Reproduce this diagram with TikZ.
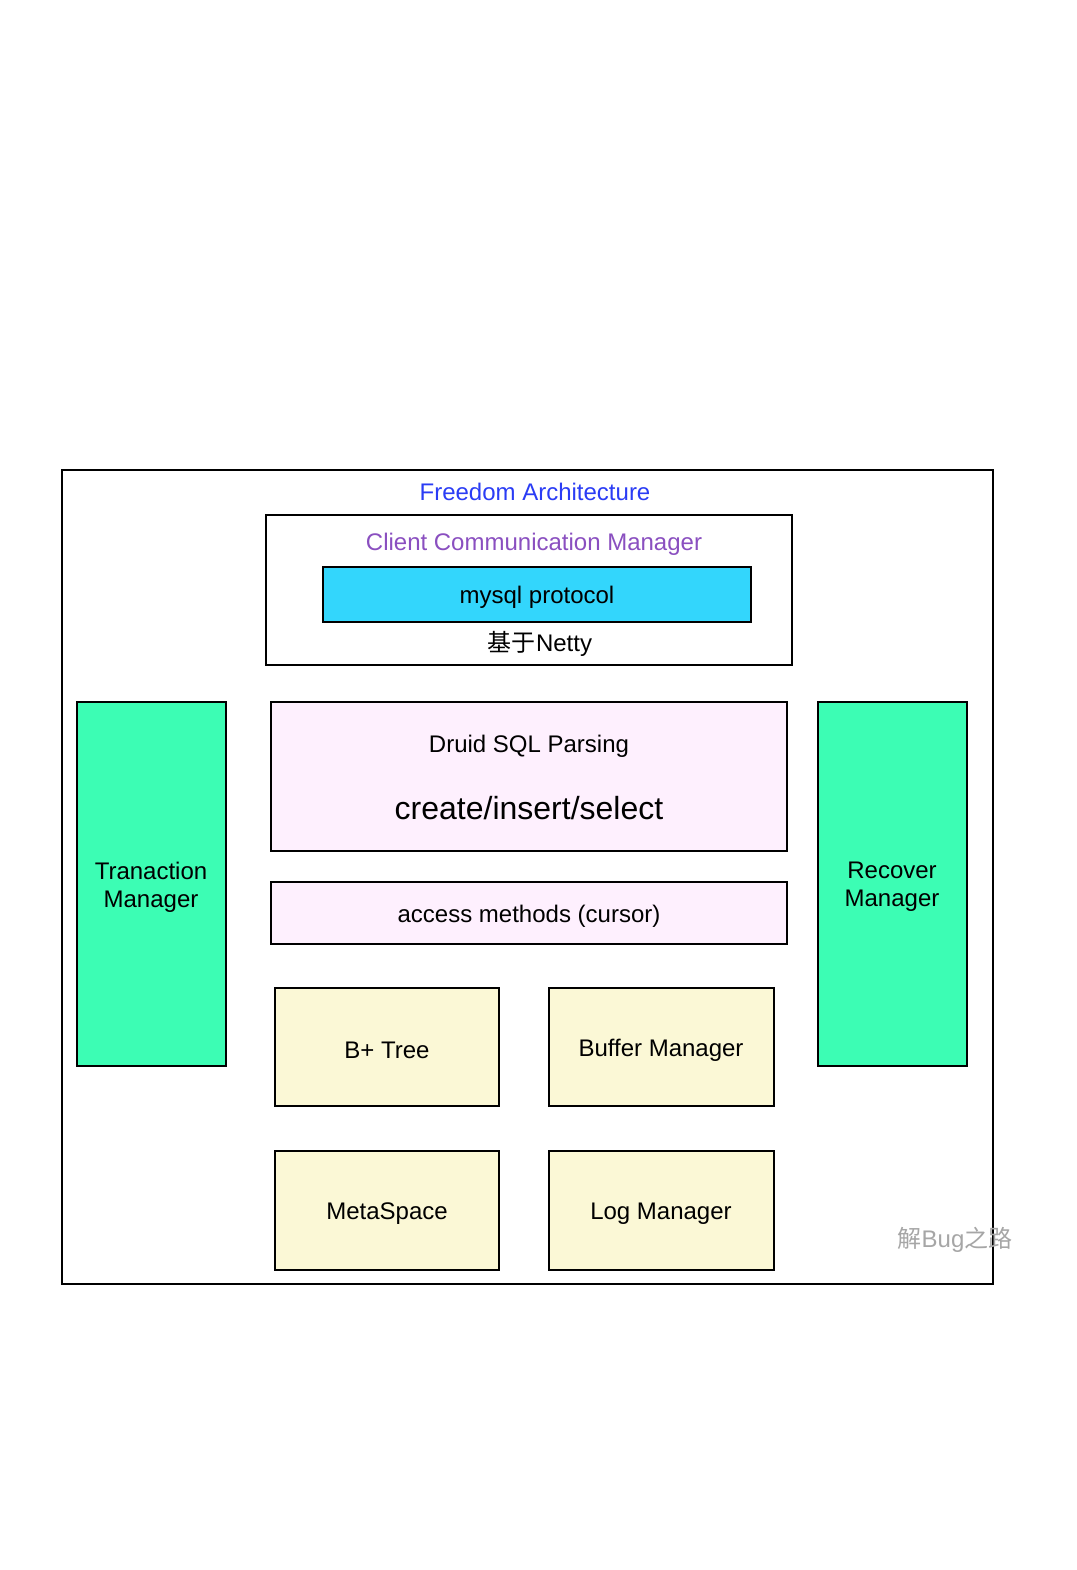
\documentclass[tikz,border=0pt]{standalone}
\usepackage{fontspec}
\setmainfont{Liberation Sans}
\newfontfamily\cjk{Noto Sans CJK SC}
\definecolor{cyanb}{HTML}{33D6FC}
\definecolor{greenb}{HTML}{3CFDB4}
\definecolor{pinkb}{HTML}{FEF0FE}
\definecolor{yelb}{HTML}{FBF8D6}
\definecolor{titleb}{HTML}{2A3CF5}
\definecolor{purp}{HTML}{8A4FC0}
\begin{document}
\begin{tikzpicture}[x=1pt,y=-1pt,
  bx/.style={draw=black,line width=1.2pt},
  lbl/.style={font=\fontsize{24}{28}\selectfont,align=center}]
\useasboundingbox (0,0) rectangle (1076,1570);
\fill[white] (0,0) rectangle (1076,1570);
\draw[bx] (62,470) rectangle (993,1284);
\node[lbl,text=titleb] (t) at (535,492) {Freedom Architecture};
\draw[bx] (266,515) rectangle (792,665);
\node[lbl,text=purp] (c) at (534,544) {Client Communication Manager};
\draw[bx,fill=cyanb] (323,567) rectangle (751,622);
\node[lbl] (m) at (537,597) {mysql protocol};
\node[lbl] (n) at (540,644) {{\cjk 基于}Netty};
\draw[bx,fill=greenb] (77,702) rectangle (226,1066);
\node[lbl] (tm) at (151,887) {Tranaction\\Manager};
\draw[bx,fill=greenb] (818,702) rectangle (967,1066);
\node[lbl] (rm) at (892,887) {Recover\\Manager};
\draw[bx,fill=pinkb] (271,702) rectangle (787,851);
\node[lbl] (d) at (529,746) {Druid SQL Parsing};
\node[font=\fontsize{32}{36}\selectfont] (cis) at (529,808) {create/insert/select};
\draw[bx,fill=pinkb] (271,882) rectangle (787,944);
\node[lbl] (a) at (529,916) {access methods (cursor)};
\draw[bx,fill=yelb] (275,988) rectangle (499,1106);
\node[lbl] (bt) at (387,1050) {B+ Tree};
\draw[bx,fill=yelb] (549,988) rectangle (774,1106);
\node[lbl] (bm) at (661,1050) {Buffer Manager};
\draw[bx,fill=yelb] (275,1151) rectangle (499,1270);
\node[lbl] (ms) at (387,1214) {MetaSpace};
\draw[bx,fill=yelb] (549,1151) rectangle (774,1270);
\node[lbl] (lm) at (661,1214) {Log Manager};
\node[text=gray!70,font=\fontsize{24}{28}\selectfont] (w) at (955,1240) {{\cjk 解}Bug{\cjk 之路}};
\end{tikzpicture}
\end{document}
